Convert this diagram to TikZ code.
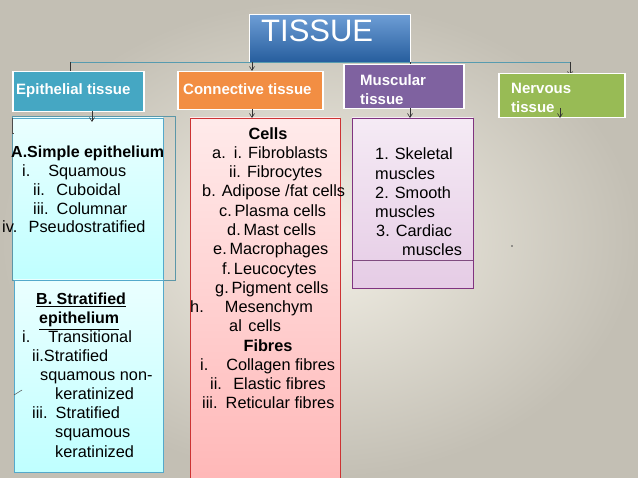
\documentclass[tikz,border=0pt]{standalone}
\usepackage{fontspec}
\setmainfont{Liberation Sans}
\usetikzlibrary{arrows.meta}
\definecolor{bgA}{HTML}{F3F0E6}
\definecolor{bgB}{HTML}{C3BFB4}
\definecolor{epi}{HTML}{45A7C3}
\definecolor{con}{HTML}{F28E43}
\definecolor{mus}{HTML}{7F62A0}
\definecolor{ner}{HTML}{98BB55}
\definecolor{tis}{HTML}{2F74C4}
\begin{document}
\begin{tikzpicture}[x=1pt,y=-1pt,
  head/.style={draw=white,line width=1.5pt,inner sep=0pt},
  htxt/.style={text=white,font=\bfseries\fontsize{15}{17}\selectfont,align=left,inner sep=0pt},
  arr/.style={-{Straight Barb[length=4pt,width=5pt]},draw=black!80,line width=0.6pt},
  conn/.style={draw=epi!70!gray,line width=0.8pt},
  txt/.style={font=\fontsize{16.3}{19}\selectfont,inner sep=0pt,anchor=base west},
  ctx/.style={font=\bfseries\fontsize{16.3}{19}\selectfont,inner sep=0pt,anchor=base},
  panel/.style={draw=#1!60!gray,line width=0.6pt}]
\useasboundingbox (0,0) rectangle (638,478);
\shade[inner color=bgA,outer color=bgB] (0,0) rectangle (638,478);
% TISSUE
\node[draw=white,line width=1pt,top color=tis!70!white,bottom color=tis!80!black,minimum width=161pt,minimum height=48pt,anchor=north west,inner sep=0pt] (tissue) at (249,14) {};
\node[text=white,font=\fontsize{31}{34}\selectfont,anchor=base west,inner sep=0pt] (tt) at (261,42) {TISSUE};
% connector bus
\coordinate (bl) at (70,62); \coordinate (br) at (570,62);
\draw[conn] (bl) -- (br);
\coordinate (a1) at (70,62); \coordinate (a2) at (252,62); \coordinate (a3) at (410,62); \coordinate (a4) at (570,62);
\coordinate (b1) at (70,76); \coordinate (b2) at (252,71); \coordinate (b3) at (410,78); \coordinate (b4) at (570,76);
\draw[arr] (a1) -- (b1); \draw[arr] (a2) -- (b2); \draw[arr] (a3) -- (b3); \draw[arr] (a4) -- (b4);
% heads
\node[head,fill=epi,minimum width=131pt,minimum height=40pt,anchor=north west] (epi) at (12,71) {};
\node[htxt,anchor=base west] (epit) at (16,95) {Epithelial tissue};
\node[head,fill=con,minimum width=145pt,minimum height=38pt,anchor=north west] (con) at (177,71) {};
\node[htxt,anchor=base west] (cont) at (183,95) {Connective tissue};
\node[head,fill=mus,minimum width=120pt,minimum height=44pt,anchor=north west] (mus) at (343,64) {};
\node[htxt,anchor=base west] (must) at (360,86) {Muscular};
\node[htxt,anchor=base west] (must2) at (360,105) {tissue};
\node[head,fill=ner,minimum width=126pt,minimum height=44pt,anchor=north west] (ner) at (498,73) {};
\node[htxt,anchor=base west] (nert) at (511,94) {Nervous};
\node[htxt,anchor=base west] (nert2) at (511,113) {tissue};
% panels
\draw[panel=cyan,top color=cyan!8,bottom color=cyan!25] (12,118) rectangle (163,280);
\draw[draw=epi!60!gray,line width=0.5pt] (12,116) rectangle (175,280);
\draw[panel=cyan,top color=cyan!8,bottom color=cyan!25] (14,280) rectangle (163,472);
\draw[panel=red,top color=red!8,bottom color=red!28] (190,118) rectangle (340,478);
\draw[panel=violet,top color=violet!8,bottom color=violet!20] (352,118) rectangle (473,288);
\draw[draw=violet!40!gray,line width=0.5pt] (352,260) -- (473,260);
\draw[black!70,line width=0.5pt] (12,133) -- (12,118) (12,133)--(14,133);
\draw[black!70,line width=0.5pt] (14,395) -- (22,390);
% down arrows
\coordinate (c1) at (92,111); \coordinate (d1) at (92,122);
\coordinate (c2) at (252,109); \coordinate (d2) at (252,118);
\coordinate (c3) at (410,108); \coordinate (d3) at (410,118);
\coordinate (c4) at (560,108); \coordinate (d4) at (560,118);
\draw[arr] (c1) -- (d1); \draw[arr] (c2) -- (d2); \draw[arr] (c3) -- (d3); \draw[arr] (c4) -- (d4);
% epithelial text
\node[txt,font=\bfseries\fontsize{16}{19}\selectfont] (e0) at (11,158) {A.Simple epithelium};
\node[txt] (e1) at (22,177) {i.\hspace{1.1em}Squamous};
\node[txt] (e2) at (33,196) {ii.\hspace{0.7em}Cuboidal};
\node[txt] (e3) at (33,215) {iii.\hspace{0.5em}Columnar};
\node[txt] (e4) at (2,233) {iv.\hspace{0.7em}Pseudostratified};
\node[txt,font=\bfseries\fontsize{16}{19}\selectfont] (b0) at (36,305) {\underline{B. Stratified}};
\node[txt,font=\bfseries\fontsize{16}{19}\selectfont] (b0b) at (39,324) {\underline{epithelium}};
\node[txt] (b1) at (22,343) {i.\hspace{1.1em}Transitional};
\node[txt] (b2) at (32,362) {ii.Stratified};
\node[txt] (b3) at (40,381) {squamous non-};
\node[txt] (b4) at (55,400) {keratinized};
\node[txt] (b5) at (32,419) {iii.\hspace{0.5em}Stratified};
\node[txt] (b6) at (55,438) {squamous};
\node[txt] (b7) at (55,458) {keratinized};
% connective text
\node[ctx] (k0) at (268,140) {Cells};
\node[txt] (k1) at (212,159) {a.\hspace{0.5em}i. Fibroblasts};
\node[txt] (k2) at (229,178) {ii. Fibrocytes};
\node[txt] (k3) at (202,197) {b. Adipose /fat cells};
\node[txt] (k4) at (219,217) {c.\,Plasma cells};
\node[txt] (k5) at (227,236) {d.\,Mast cells};
\node[txt] (k6) at (213,255) {e.\,Macrophages};
\node[txt] (k7) at (222,275) {f.\,Leucocytes};
\node[txt] (k8) at (215,294) {g.\,Pigment cells};
\node[txt] (k9) at (190,313) {h.\hspace{1.3em}Mesenchym};
\node[txt] (k10) at (229,332) {al\hspace{0.4em}cells};
\node[ctx] (k11) at (268,352) {Fibres};
\node[txt] (k12) at (200,371) {i.\hspace{1.1em}Collagen fibres};
\node[txt] (k13) at (210,390) {ii.\hspace{0.7em}Elastic fibres};
\node[txt] (k14) at (202,409) {iii.\hspace{0.5em}Reticular fibres};
% muscular text
\node[txt] (m1) at (375,160) {1. Skeletal};
\node[txt] (m2) at (375,180) {muscles};
\node[txt] (m3) at (375,199) {2. Smooth};
\node[txt] (m4) at (375,218) {muscles};
\node[txt] (m5) at (376,237) {3. Cardiac};
\node[txt] (m6) at (402,256) {muscles};
\fill[black!70] (512,246) circle (0.8pt);
\end{tikzpicture}
\end{document}
